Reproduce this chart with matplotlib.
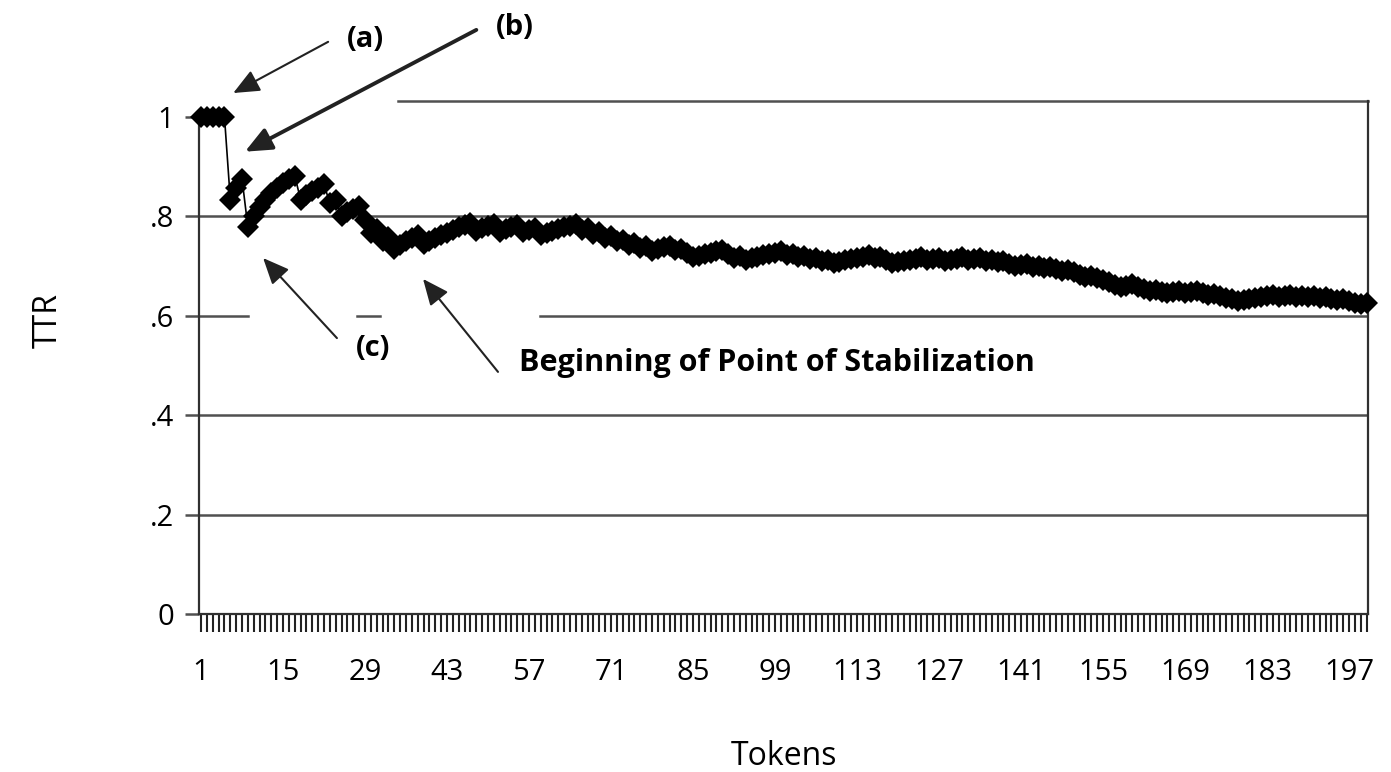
import numpy as np
import matplotlib.pyplot as plt

# TTR, one value per token (1..200)
tokens = np.arange(1, 201)
ttr = [
    1.000, 1.000, 1.000, 1.000, 1.000, 0.833, 0.857, 0.875, 0.778, 0.800,
    0.818, 0.833, 0.846, 0.857, 0.867, 0.875, 0.882, 0.833, 0.842, 0.850,
    0.857, 0.864, 0.826, 0.833, 0.800, 0.808, 0.815, 0.821, 0.793, 0.767,
    0.774, 0.750, 0.758, 0.735, 0.743, 0.750, 0.757, 0.763, 0.744, 0.750,
    0.756, 0.762, 0.767, 0.773, 0.778, 0.783, 0.787, 0.771, 0.776, 0.780,
    0.784, 0.769, 0.774, 0.778, 0.782, 0.768, 0.772, 0.776, 0.763, 0.767,
    0.770, 0.774, 0.778, 0.781, 0.785, 0.773, 0.776, 0.765, 0.768, 0.757,
    0.761, 0.750, 0.753, 0.743, 0.747, 0.737, 0.740, 0.731, 0.734, 0.738,
    0.741, 0.732, 0.735, 0.726, 0.718, 0.721, 0.724, 0.727, 0.730, 0.733,
    0.725, 0.717, 0.720, 0.713, 0.716, 0.719, 0.722, 0.724, 0.727, 0.730,
    0.723, 0.725, 0.718, 0.721, 0.714, 0.717, 0.710, 0.713, 0.706, 0.709,
    0.712, 0.714, 0.717, 0.719, 0.722, 0.716, 0.718, 0.712, 0.706, 0.708,
    0.711, 0.713, 0.715, 0.718, 0.712, 0.714, 0.717, 0.711, 0.713, 0.715,
    0.718, 0.712, 0.714, 0.716, 0.711, 0.713, 0.708, 0.710, 0.705, 0.700,
    0.702, 0.704, 0.699, 0.701, 0.697, 0.699, 0.694, 0.689, 0.691, 0.687,
    0.682, 0.678, 0.680, 0.675, 0.671, 0.667, 0.662, 0.658, 0.660, 0.663,
    0.658, 0.654, 0.650, 0.652, 0.648, 0.645, 0.647, 0.649, 0.645, 0.647,
    0.649, 0.645, 0.642, 0.644, 0.640, 0.636, 0.633, 0.629, 0.631, 0.633,
    0.635, 0.637, 0.639, 0.641, 0.638, 0.640, 0.642, 0.638, 0.640, 0.637,
    0.639, 0.635, 0.637, 0.634, 0.631, 0.633, 0.629, 0.626, 0.623, 0.625,
]
tick_labels = [1, 15, 29, 43, 57, 71, 85, 99, 113, 127, 141, 155, 169, 183, 197]
y_ticks = [0, 0.2, 0.4, 0.6, 0.8, 1.0]
y_labels = ['0', '.2', '.4', '.6', '.8', '1']

plt.rcParams['font.family'] = ['Open Sans', 'DejaVu Sans']

fig = plt.figure(figsize=(13.91, 7.72), dpi=100)
ax = fig.add_axes([0.1431, 0.2047, 0.8404, 0.6645])

grid_col = '#505050'
for yv in [0.2, 0.4, 0.8]:
    ax.axhline(yv, color=grid_col, lw=1.8, zorder=1)
# .6 line is broken where the annotations sat in the original
for a, b in [(0.0, 0.042), (0.135, 0.155), (0.292, 1.0)]:
    ax.axhline(0.6, xmin=a, xmax=b, color=grid_col, lw=1.8, zorder=1)
ax.axhline(1.032, xmin=0.17, xmax=1.0, color=grid_col, lw=1.8, zorder=1, clip_on=False)

ax.plot(tokens, ttr, color='black', lw=1.2, marker='D', markersize=11.5,
        markeredgewidth=0, zorder=3, clip_on=False)

ax.set_xlim(0.66, 200.25)
ax.set_ylim(0, 1.032)

ax.spines['top'].set_visible(False)
ax.spines['left'].set_bounds(0, 1.0)
for s in ['left', 'bottom', 'right']:
    ax.spines[s].set_color('#303030')
    ax.spines[s].set_linewidth(1.6)

ax.set_yticks(y_ticks)
ax.set_yticklabels(y_labels)
ax.tick_params(axis='y', length=10, width=1.8, color=grid_col, labelsize=21, pad=8)

ax.set_xticks(tokens)
ax.set_xticklabels([str(t) if t in tick_labels else '' for t in tokens])
ax.tick_params(axis='x', length=13, width=1.5, color='#222222', labelsize=21, pad=19)

ax.set_ylabel('TTR', fontsize=23)
ax.yaxis.set_label_coords(-0.115, 0.573)
ax.set_xlabel('Tokens', fontsize=23, labelpad=38)

arrow = dict(arrowstyle='-|>,head_length=1.6,head_width=0.7', color='#222222', lw=1.5,
             shrinkA=0, shrinkB=0)
arrow_b = dict(arrow, lw=2.8)
txt = dict(fontsize=21, fontweight='bold', va='center', clip_on=False)

ax.annotate('', xy=(6.5, 1.048), xytext=(22.7, 1.151), arrowprops=arrow, annotation_clip=False)
ax.text(29.0, 1.155, '(a)', ha='center', **txt)
ax.annotate('', xy=(8.5, 0.93), xytext=(48.0, 1.175), arrowprops=arrow_b, annotation_clip=False)
ax.text(54.6, 1.179, '(b)', ha='center', **txt)
ax.annotate('', xy=(11.6, 0.716), xytext=(24.2, 0.555), arrowprops=arrow, annotation_clip=False)
ax.text(30.4, 0.535, '(c)', ha='center', **txt)
ax.annotate('', xy=(38.9, 0.674), xytext=(51.7, 0.487), arrowprops=arrow, annotation_clip=False)
ax.text(55.3, 0.505, 'Beginning of Point of Stabilization', ha='left', fontsize=22,
        fontweight='bold', va='center')

fig.savefig('out.png', dpi=100)
